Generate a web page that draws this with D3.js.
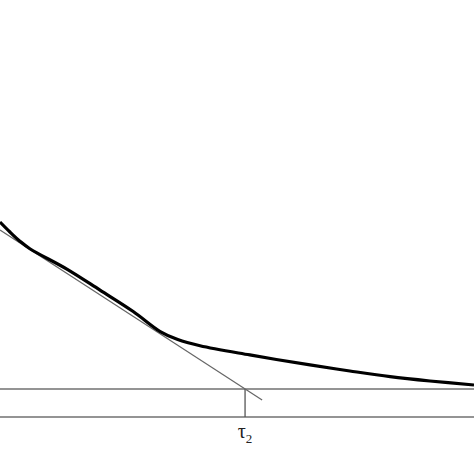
<!DOCTYPE html>
<html>
<head>
<meta charset="utf-8">
<script src="https://cdn.jsdelivr.net/npm/d3@7"></script>
<style>
  body { margin: 0; background: #fff; }
  svg { display: block; }
</style>
</head>
<body>
<div id="chart"></div>
<script>
// chart data (abstract units: t along x, value along y)
const curveT   = [0, 2.1, 4.2, 6.3, 14.1, 21.1, 28.1, 33.8, 37.5, 42.2, 52.7, 65.4, 73.8, 82.3, 90.7, 100];
const curveV   = [100, 94.0, 88.5, 84.0, 71.8, 59.2, 46.4, 34.4, 29.6, 25.9, 20.4, 14.4, 10.8, 7.4, 4.8, 2.4];
const tangentT = [0, 55.3];
const tangentV = [95.2, -6.6];
const levels   = [0, -16.8];
const tickT    = [51.7];
const tickLabels = ["τ", "2"];

const WIDTH = 474;
const HEIGHT = 474;

const svg = d3.select("#chart").append("svg")
    .attr("width", WIDTH)
    .attr("height", HEIGHT);

const x = d3.scaleLinear()
    .domain([0, 100])
    .range([0, WIDTH]);

const y = d3.scaleLinear()
    .domain([0, 100])
    .range([389, 222]);

// horizontal reference lines
svg.selectAll(".level")
    .data(levels)
    .enter()
    .append("line")
    .attr("class", "level")
    .attr("x1", x(0))
    .attr("x2", x(100))
    .attr("y1", d => y(d))
    .attr("y2", d => y(d))
    .attr("stroke", "#707070")
    .attr("stroke-width", 1.6);

// tick between the two lines
svg.selectAll(".tick")
    .data(tickT)
    .enter()
    .append("line")
    .attr("class", "tick")
    .attr("x1", d => x(d))
    .attr("x2", d => x(d))
    .attr("y1", y(levels[0]))
    .attr("y2", y(levels[1]))
    .attr("stroke", "#555")
    .attr("stroke-width", 1.3);

// tangent line
const tangent = tangentT.map((t, i) => [t, tangentV[i]]);
svg.append("path")
    .datum(tangent)
    .attr("fill", "none")
    .attr("stroke", "#666")
    .attr("stroke-width", 1.2)
    .attr("d", d3.line().x(d => x(d[0])).y(d => y(d[1])));

// main curve
const pts = curveT.map((t, i) => [t, curveV[i]]);
svg.append("path")
    .datum(pts)
    .attr("fill", "none")
    .attr("stroke", "#000")
    .attr("stroke-width", 3.2)
    .attr("stroke-linejoin", "round")
    .attr("d", d3.line()
        .x(d => x(d[0]))
        .y(d => y(d[1]))
        .curve(d3.curveCatmullRom.alpha(0.5)));

// tick label tau_2
const label = svg.append("text")
    .attr("x", x(tickT[0]))
    .attr("y", 438)
    .attr("text-anchor", "middle")
    .attr("font-family", "'Liberation Serif', 'Times New Roman', serif")
    .attr("font-size", 20)
    .attr("fill", "#222");
label.append("tspan").text(tickLabels[0]);
label.append("tspan")
    .attr("dy", 5)
    .attr("font-size", 13)
    .text(tickLabels[1]);
</script>
</body>
</html>
